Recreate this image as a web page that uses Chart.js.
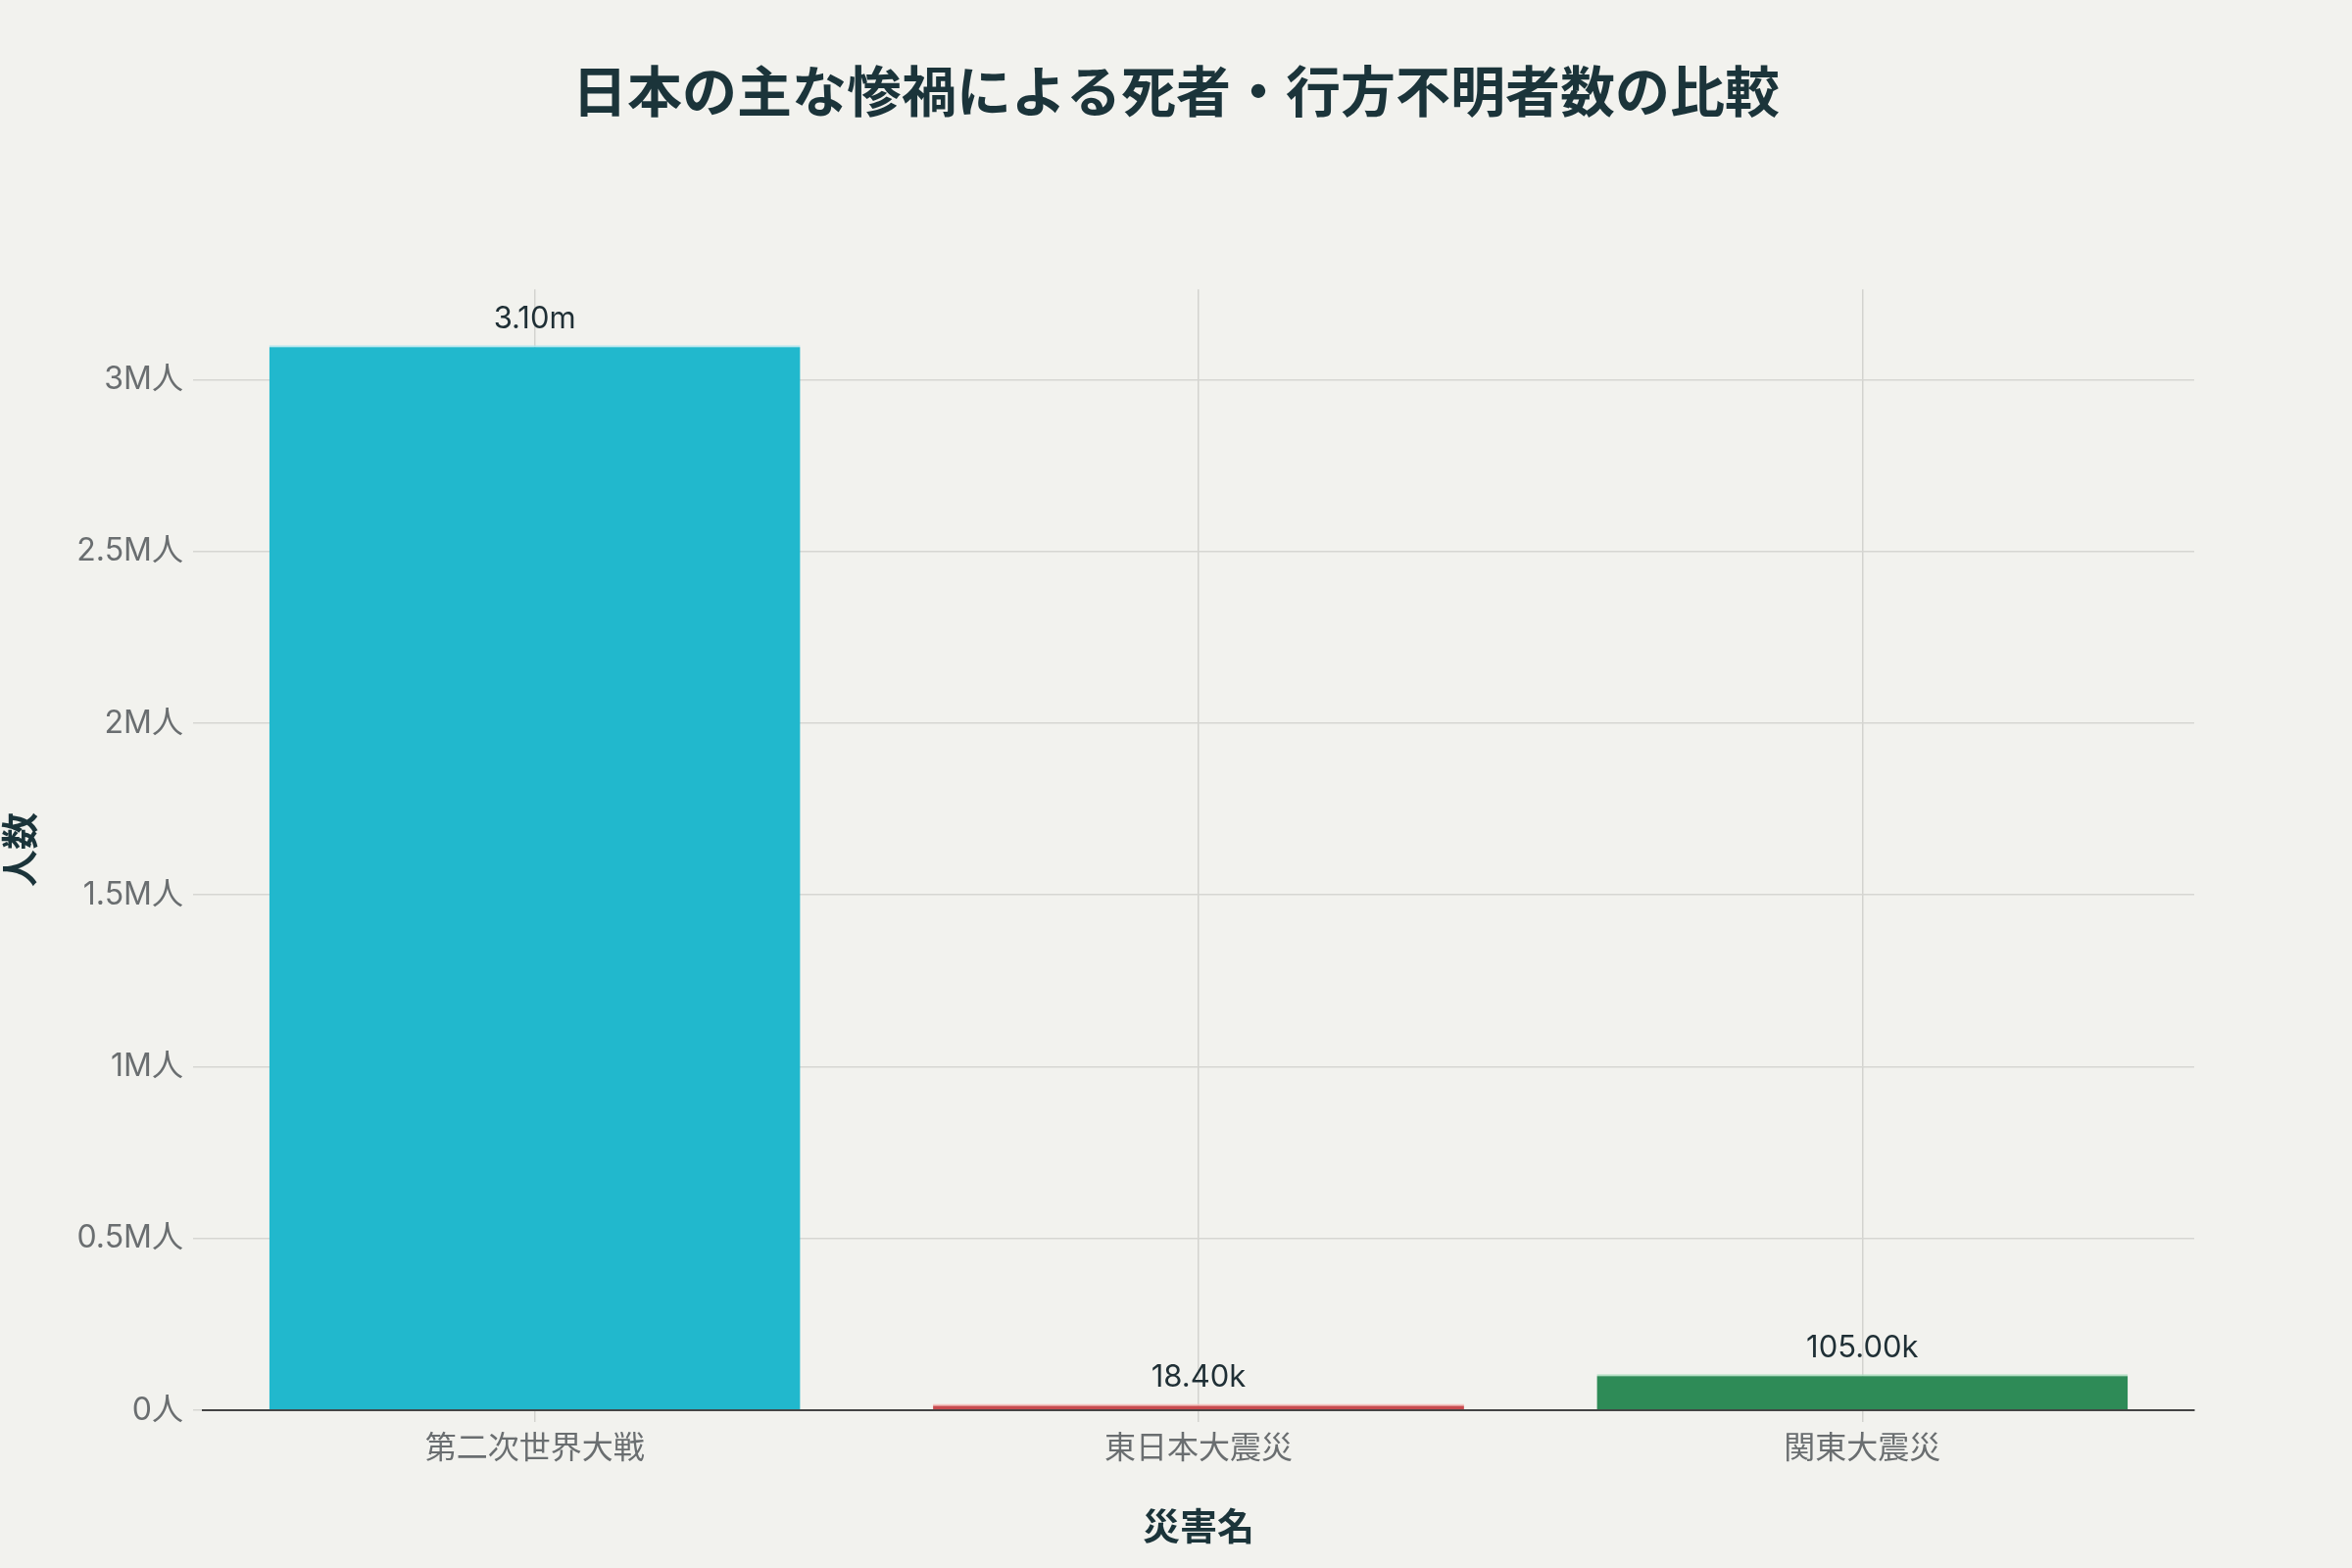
<!DOCTYPE html>
<html lang="ja">
<head>
<meta charset="utf-8">
<title>日本の主な惨禍による死者・行方不明者数の比較</title>
<script src="https://cdn.jsdelivr.net/npm/chart.js@4.4.1/dist/chart.umd.min.js"></script>
<style>
  html, body { margin: 0; padding: 0; background: #f2f2ee; }
  canvas { display: block; }
</style>
</head>
<body>
<canvas id="disasterChart" width="2400" height="1600" style="width:2400px;height:1600px"></canvas>
<script>
// data
const disasters = ['第二次世界大戦', '東日本大震災', '関東大震災'];
const victims = [3100000, 18400, 105000];
const yTickValues = [0, 500000, 1000000, 1500000, 2000000, 2500000, 3000000];
const yMax = 3263000;

const CJK = "Inter, 'Noto Sans CJK JP', sans-serif";

function shortNumber(v) {
    if (v >= 1000000) return (v / 1000000).toFixed(2) + 'm';
    return (v / 1000).toFixed(2) + 'k';
}

// value labels above the bars
const barLabels = {
    id: 'barLabels',
    afterDatasetsDraw(chart) {
        const ctx = chart.ctx;
        const meta = chart.getDatasetMeta(0);
        ctx.save();
        ctx.font = "31px " + CJK;
        ctx.fillStyle = '#1f2f35';
        ctx.textAlign = 'center';
        ctx.textBaseline = 'middle';
        meta.data.forEach(function(bar, i) {
            ctx.fillText(shortNumber(victims[i]), bar.x, bar.y - 27);
        });
        ctx.restore();
    }
};

const ctx = document.getElementById('disasterChart');
new Chart(ctx.getContext('2d'), {
    type: 'bar',
    data: {
        labels: disasters,
        datasets: [{
            data: victims,
            backgroundColor: ['#21b8cd', '#c94b4f', '#2e8b57'],
            borderColor: ['rgba(180,230,238,0.9)', 'rgba(245,190,185,0.9)', 'rgba(170,220,190,0.9)'],
            borderWidth: { top: 2, left: 0, right: 0, bottom: 0 },
            borderSkipped: 'start',
            barPercentage: 0.8,
            categoryPercentage: 1.0
        }]
    },
    options: {
        responsive: false,
        devicePixelRatio: 1,
        animation: false,
        layout: { padding: 0 },
        plugins: {
            legend: { display: false },
            tooltip: { enabled: false },
            title: {
                display: true,
                text: '日本の主な惨禍による死者・行方不明者数の比較',
                color: '#1b343a',
                font: { family: CJK, size: 56, weight: 'bold' },
                padding: { top: 64, bottom: 164 }
            }
        },
        scales: {
            x: {
                grid: {
                    offset: false,
                    color: '#d3d3cf',
                    lineWidth: 1.5,
                    tickLength: 12,
                    tickColor: '#d3d3cf'
                },
                border: { display: true, color: '#444444', width: 2 },
                ticks: {
                    color: '#6a6e70',
                    font: { family: CJK, size: 32 },
                    padding: 8
                },
                title: {
                    display: true,
                    text: '災害名',
                    color: '#1b343a',
                    font: { family: CJK, size: 38, weight: 'bold' },
                    padding: { top: 0, bottom: 18 }
                },
                afterFit(scale) { scale.height = 161; }
            },
            y: {
                min: 0,
                max: yMax,
                grid: {
                    color: function(c) { return c.tick && c.tick.value === 0 ? 'rgba(0,0,0,0)' : '#d6d6d2'; },
                    lineWidth: 1.5,
                    tickLength: 10,
                    tickColor: '#d6d6d2'
                },
                border: { display: false },
                ticks: {
                    color: '#6a6e70',
                    font: { family: CJK, size: 32 },
                    padding: 10,
                    callback: function(v) { return v === 0 ? '0人' : (v / 1000000) + 'M人'; }
                },
                afterBuildTicks(scale) {
                    scale.ticks = yTickValues.map(function(v) { return { value: v }; });
                },
                title: {
                    display: true,
                    text: '人数',
                    color: '#1b343a',
                    font: { family: CJK, size: 38, weight: 'bold' },
                    padding: { top: 0, bottom: 0 }
                },
                afterFit(scale) { scale.width = 207; }
            },
            // empty right margin so the title stays centred on the page
            yRight: {
                position: 'right',
                display: true,
                grid: { display: false },
                border: { display: false },
                ticks: { display: false },
                afterFit(scale) { scale.width = 161; }
            }
        }
    },
    plugins: [barLabels]
});
</script>
</body>
</html>
